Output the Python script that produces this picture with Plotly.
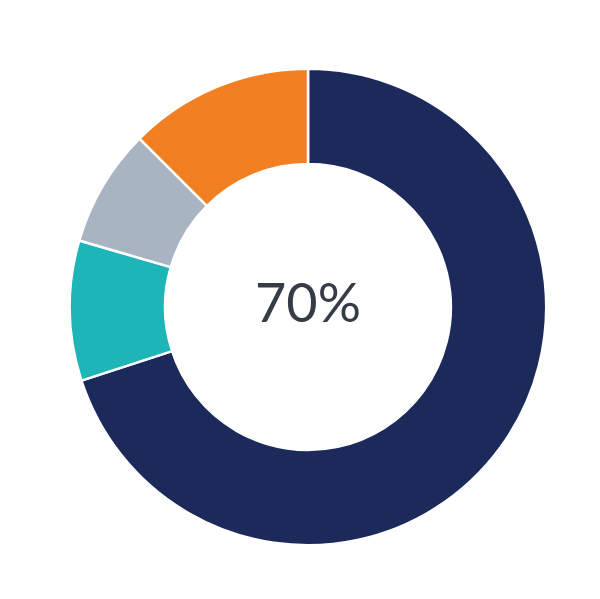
import plotly.graph_objects as go

labels = ["A", "B", "C", "D"]
values = [70, 9.5, 8, 12.5]
colors = ["#1b2a5b", "#1db5b8", "#a9b4c2", "#f27f22"]
center_text = "70%"

fig = go.Figure(go.Pie(
    labels=labels, values=values, hole=0.6, sort=False, direction="clockwise",
    rotation=0, marker=dict(colors=colors, line=dict(color="white", width=2.5)),
    textinfo="none", hoverinfo="label+percent",
    domain=dict(x=[0.103, 0.897], y=[0.1031, 0.8985]),
))
fig.update_layout(
    width=600, height=599, margin=dict(l=0, r=0, t=0, b=0),
    showlegend=False, paper_bgcolor="white",
    annotations=[dict(text=center_text, x=0.5, y=0.51, xref="paper", yref="paper",
                      showarrow=False, font=dict(family="Lato", size=54, color="#363c46"))],
)
fig.write_html("out.html")
